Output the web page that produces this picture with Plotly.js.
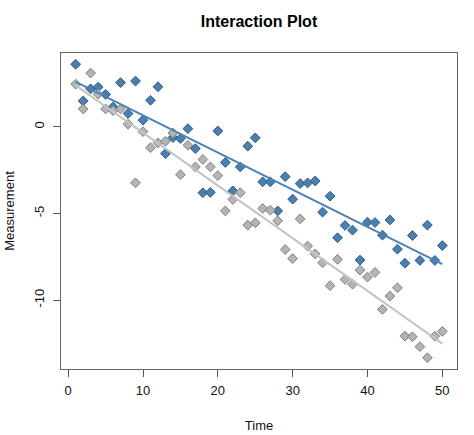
<!DOCTYPE html>
<html>
<head>
<meta charset="utf-8">
<script src="https://cdn.plot.ly/plotly-3.0.1.min.js"></script>
<style>
  html, body { margin: 0; padding: 0; background: #ffffff; }
  #chart { width: 474px; height: 435px; }
</style>
</head>
<body>
<div id="chart"></div>
<script>
// Time points
const time = [1, 2, 3, 4, 5, 6, 7, 8, 9, 10,
              11, 12, 13, 14, 15, 16, 17, 18, 19, 20,
              21, 22, 23, 24, 25, 26, 27, 28, 29, 30,
              31, 32, 33, 34, 35, 36, 37, 38, 39, 40,
              41, 42, 43, 44, 45, 46, 47, 48, 49, 50];

// Measurements, blue group
const blueGroup = [3.62, 1.50, 2.20, 2.30, 1.88, 1.15, 2.56, 0.77, 2.65, 0.39,
                   1.54, 2.32, -1.54, -0.61, -0.67, -0.10, -1.25, -3.80, -3.78, -0.23,
                   -2.05, -3.69, -2.31, -1.11, -0.63, -3.17, -3.17, -4.85, -2.87, -4.17,
                   -3.27, -3.23, -3.12, -4.92, -4.00, -6.40, -5.69, -5.96, -7.69, -5.50,
                   -5.52, -6.25, -5.37, -7.06, -7.87, -6.27, -7.71, -5.67, -7.71, -6.85];

// Measurements, gray group
const grayGroup = [2.47, 1.04, 3.11, 1.90, 1.04, 0.94, 1.04, 0.16, -3.23, -0.27,
                   -1.20, -0.92, -0.83, -0.35, -2.76, -1.06, -2.31, -1.88, -2.31, -2.81,
                   -4.85, -4.19, -3.80, -5.67, -5.54, -4.71, -4.81, -5.42, -7.08, -7.60,
                   -5.31, -6.88, -7.33, -7.85, -9.17, -7.65, -8.81, -9.08, -8.27, -8.67,
                   -8.40, -10.54, -9.77, -9.29, -12.08, -12.12, -12.69, -13.33, -12.08, -11.81];

// Ordinary least squares fit, evaluated at every time point
function linearFit(xs, ys) {
  const n = xs.length;
  const mx = xs.reduce((a, b) => a + b, 0) / n;
  const my = ys.reduce((a, b) => a + b, 0) / n;
  let sxy = 0, sxx = 0;
  for (let i = 0; i < n; i++) {
    sxy += (xs[i] - mx) * (ys[i] - my);
    sxx += (xs[i] - mx) * (xs[i] - mx);
  }
  const slope = sxy / sxx;
  const intercept = my - slope * mx;
  return xs.map(x => intercept + slope * x);
}

const blueFill = '#4a7fb0', blueEdge = '#2d5b88', blueLine = '#4a82b8';
const grayFill = '#b4b4b4', grayEdge = '#808080', grayLine = '#c4c4c4';

const traces = [
  {
    x: time, y: blueGroup, type: 'scatter', mode: 'markers',
    marker: { symbol: 'diamond', size: 7.5, color: blueFill, line: { color: blueEdge, width: 1 } },
    hoverinfo: 'x+y'
  },
  {
    x: time, y: grayGroup, type: 'scatter', mode: 'markers',
    marker: { symbol: 'diamond', size: 7.5, color: grayFill, line: { color: grayEdge, width: 1 } },
    hoverinfo: 'x+y'
  },
  {
    x: time, y: linearFit(time, blueGroup), type: 'scatter', mode: 'lines',
    line: { color: blueLine, width: 2 }, hoverinfo: 'skip'
  },
  {
    x: time, y: linearFit(time, grayGroup), type: 'scatter', mode: 'lines',
    line: { color: grayLine, width: 2 }, hoverinfo: 'skip'
  }
];

const axisFont = { family: 'Liberation Sans, Arial, sans-serif', size: 13, color: '#111' };

const layout = {
  width: 474, height: 435,
  margin: { l: 61, r: 17, t: 53, b: 66 },
  paper_bgcolor: '#ffffff', plot_bgcolor: '#ffffff',
  showlegend: false,
  title: {
    text: '<b>Interaction Plot</b>',
    font: { family: 'Liberation Sans, Arial, sans-serif', size: 16, color: '#000' },
    x: 0.5, xref: 'paper', xanchor: 'center',
    y: 0.951, yref: 'container', yanchor: 'middle'
  },
  xaxis: {
    range: [-0.96, 51.96], autorange: false,
    tickvals: [0, 10, 20, 30, 40, 50],
    ticks: 'outside', ticklen: 7, tickwidth: 1, tickcolor: '#555',
    showline: true, linecolor: '#666', linewidth: 1, mirror: true,
    showgrid: false, zeroline: false,
    tickfont: axisFont, ticklabelstandoff: 2,
    title: { text: 'Time', font: axisFont, standoff: 24 },
    automargin: false
  },
  yaxis: {
    range: [-13.98, 4.27], autorange: false,
    tickvals: [-10, -5, 0],
    ticktext: ['-10', '-5', '0'],
    tickangle: -90,
    ticks: 'outside', ticklen: 7, tickwidth: 1, tickcolor: '#555',
    showline: true, linecolor: '#666', linewidth: 1, mirror: true,
    showgrid: false, zeroline: false,
    tickfont: axisFont, ticklabelstandoff: 4,
    title: { text: 'Measurement', font: axisFont, standoff: 14 },
    automargin: false
  }
};

Plotly.newPlot('chart', traces, layout, { staticPlot: true, displayModeBar: false });
</script>
</body>
</html>
